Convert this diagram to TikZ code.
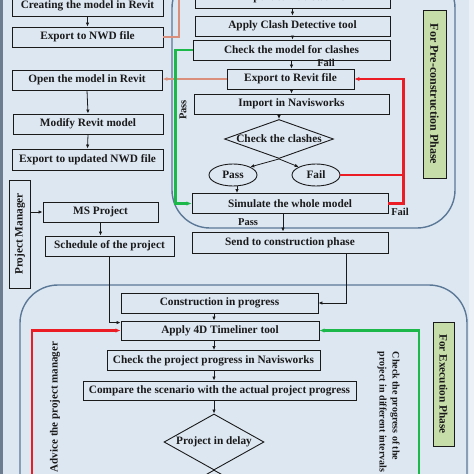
\documentclass[tikz,border=0pt]{standalone}
\usepackage{fontspec}
\setmainfont{Liberation Serif}
\usetikzlibrary{shapes.geometric,arrows.meta,calc}
\definecolor{bg}{HTML}{DDE7F2}
\definecolor{frm}{HTML}{5B7897}
\definecolor{gbox}{HTML}{C6DCA9}
\definecolor{salm}{HTML}{DA8E7C}
\definecolor{rline}{HTML}{EC1C24}
\definecolor{gline}{HTML}{1DB84A}
\definecolor{ink}{HTML}{1A1A1A}
\definecolor{edgeband}{HTML}{6C7D90}
\begin{document}
\begin{tikzpicture}[x=1pt,y=-1pt,
  font=\bfseries\fontsize{11.3}{12}\selectfont,
  bx/.style={draw=ink, line width=0.9pt, inner sep=0pt, align=center, text=ink},
  dia/.style={draw=ink, line width=0.9pt, diamond, inner sep=0pt, text=ink},
  ell/.style={draw=ink, line width=0.9pt, ellipse, inner sep=0pt, text=ink, minimum width=48pt, minimum height=22pt},
  arr/.style={-{Latex[length=4pt,width=3.5pt]}, line width=0.8pt, draw=ink},
  frame/.style={draw=frm, line width=1.4pt},
  lab/.style={text=ink, inner sep=0pt, font=\bfseries\fontsize{10.5}{12}\selectfont},
  redl/.style={draw=rline, line width=2.2pt},
  grnl/.style={draw=gline, line width=2.2pt}
]
\fill[bg] (0,0) rectangle (474,474);
\useasboundingbox (0,0) rectangle (474,474);
\clip (0,0) rectangle (474,474);
\fill[edgeband] (0,0) rectangle (3,474);
\fill[white!40!bg] (469,0) rectangle (474,474);

% frames
\draw[frame, rounded corners=38pt] (172,-30) rectangle (455,228);
\draw[frame, rounded corners=38pt] (20,285) rectangle (467,560);

% left column
\node[bx, minimum width=151pt, minimum height=21pt] (c1) at (87.5,5.5) {Creating the model in Revit};
\node[bx, minimum width=151pt, minimum height=20pt] (c2) at (87.5,37) {Export to NWD file};
\node[bx, minimum width=150pt, minimum height=20pt] (c3) at (87,80) {Open the model in Revit};
\node[bx, minimum width=150pt, minimum height=20pt] (c4) at (88,124) {Modify Revit model};
\node[bx, minimum width=151pt, minimum height=21pt] (c5) at (87.5,159.5) {Export to updated NWD file};
\draw[arr] (c1.south) -- (c2.north);
\draw[arr] (c3.south) -- (c4.north);
\draw[arr] (c4.south) -- (c5.north);

% pre-construction
\node[bx, minimum width=195pt, minimum height=20pt] (p0) at (292.5,-2) {Import to Navisworks};
\node[bx, minimum width=195pt, minimum height=20pt] (p1) at (292.5,26) {Apply Clash Detective tool};
\node[bx, minimum width=197pt, minimum height=20pt] (p2) at (291.5,50) {Check the model for clashes};
\node[bx, minimum width=127pt, minimum height=20pt] (p3) at (290.5,79) {Export to Revit file};
\node[bx, minimum width=195pt, minimum height=20pt] (p4) at (291.5,104) {Import in Navisworks};
\node[dia, minimum width=109pt, minimum height=39pt, aspect=2.8] (d1) at (279,139) {Check the clashes};
\node[ell] (e1) at (233,175) {Pass};
\node[ell] (e2) at (316,175) {Fail};
\node[bx, minimum width=196pt, minimum height=20pt] (p5) at (290,203.5) {Simulate the whole model};
\node[bx, minimum width=196pt, minimum height=21pt] (s1) at (290,242.5) {Send to construction phase};
\node[bx, fill=gbox, rotate=-90, minimum width=168pt, minimum height=23pt,
      font=\bfseries\fontsize{12}{13}\selectfont] (gp) at (434.5,94) {For Pre-construction Phase};

\draw[arr] (p0.south) -- (p1.north);
\draw[arr] (p1.south) -- (p1.south |- p2.north);
\draw[arr] (p2.south) -- (p2.south |- p3.north);
\draw[arr] (p3.south -| p2.south) -- (p4.north);
\draw[arr] (d1.north |- p4.south) -- (d1.north);
\draw[arr] (d1.south) -- (e1.north east);
\draw[arr] (d1.south) -- (e2.north west);
\draw[arr] ([xshift=4pt]e1.south) -- ([xshift=4pt]e1.south |- p5.north);
\draw[arr] ([xshift=-7pt]p5.south) -- ([xshift=-7pt]s1.north);

% pink / salmon connectors
\coordinate (pk) at (179,-2);
\draw[draw=salm, line width=1.4pt, -{Latex[length=4pt,width=3.5pt]}] (c2.east) -| (pk) -- (pk -| p0.west);
\draw[draw=salm, line width=1.4pt, -{Latex[length=5pt,width=4pt]}] (p3.west) -- (p3.west -| c3.east);

% green pass line
\draw[grnl, -{Latex[length=5pt,width=4.5pt]}] (p2.west) -- ++(-17,0) |- (p5.west);
\node[lab, rotate=90] (lp1) at (183,110) {Pass};

% red fail lines
\coordinate (rc) at (403,175);
\draw[redl, -{Latex[length=5pt,width=4.5pt]}] (p5.east) -- ++(15,0) |- (p3.east);
\draw[draw=rline, line width=1.2pt] (e2.east) -- (rc);
\node[lab] (lf1) at (326,63) {Fail};
\node[lab] (lf2) at (400,212) {Fail};
\node[lab] (lp2) at (248,222) {Pass};

% project manager
\node[bx, rotate=90, minimum width=108pt, minimum height=21pt] (pm) at (20,234) {Project Manager};
\node[bx, minimum width=115pt, minimum height=20pt] (ms) at (100.5,212) {MS Project};
\node[bx, minimum width=129pt, minimum height=20pt] (sc) at (109.5,246) {Schedule of the project};
\draw[arr] (ms.west -| pm.south) -- (ms.west);
\draw[arr] (ms.south) -- (ms.south |- sc.north);

% execution
\node[bx, minimum width=197pt, minimum height=20pt] (x1) at (219.5,303) {Construction in progress};
\node[bx, minimum width=198pt, minimum height=19pt] (x2) at (220,330.5) {Apply 4D Timeliner tool};
\node[bx, minimum width=213pt, minimum height=20pt] (x3) at (213.5,360.5) {Check the project progress in Navisworks};
\node[bx, minimum width=273pt, minimum height=19pt] (x4) at (219.5,390.5) {Compare the scenario with the actual project progress};
\node[dia, minimum width=100pt, minimum height=56pt, aspect=1.8] (d2) at (214,442) {Project in delay};
\node[dia, minimum width=100pt, minimum height=56pt, aspect=1.8] (d3) at (214,498) {};
\node[bx, fill=gbox, rotate=-90, minimum width=124pt, minimum height=21pt] (ge) at (443.5,384) {For Execution Phase};

\draw[arr] (x1.south -| d2.north) -- (x2.north -| d2.north);
\draw[arr] (x2.south -| d2.north) -- (x3.north -| d2.north);
\draw[arr] (x3.south -| d2.north) -- (x4.north -| d2.north);
\draw[arr] (x4.south -| d2.north) -- (d2.north);

\draw[arr] (sc.south) |- ([yshift=-2pt]x2.north west);
\draw[arr] ([xshift=56pt]s1.south) |- (x1.east);

\coordinate (rb) at (32,490);
\coordinate (gb) at (419,490);
\draw[redl, -{Latex[length=5pt,width=4.5pt]}] (rb) |- (x2.west);
\draw[grnl, -{Latex[length=5pt,width=4.5pt]}] (gb) |- (x2.east);

\node[lab, rotate=90, font=\bfseries\fontsize{11}{12}\selectfont] (adv) at (55,407) {Advice the project manager};
\node[lab, rotate=-90, align=left, font=\bfseries\fontsize{10}{13}\selectfont] (chk) at (388.5,412) {Check the progress of the\\project in different intervals};
\end{tikzpicture}
\end{document}
